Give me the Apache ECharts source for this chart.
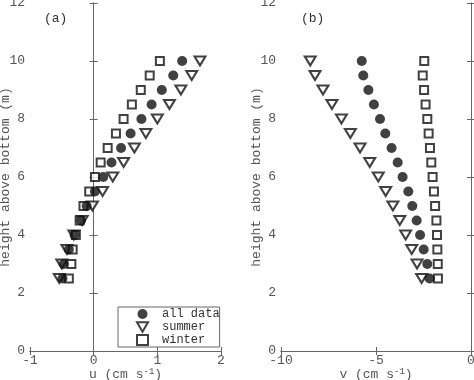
<!DOCTYPE html>
<html><head><meta charset="utf-8">
<script src="https://cdn.jsdelivr.net/npm/echarts@6/dist/echarts.min.js"></script>
<style>html,body{margin:0;padding:0;background:#fff}#c{width:474px;height:380px}</style>
</head><body><div id="c"></div>
<script>
const heights = [10, 9.5, 9, 8.5, 8, 7.5, 7, 6.5, 6, 5.5, 5, 4.5, 4, 3.5, 3, 2.5];
const uAll    = [1.39, 1.25, 1.07, 0.91, 0.75, 0.58, 0.43, 0.28, 0.15, 0.02, -0.11, -0.20, -0.30, -0.39, -0.47, -0.49];
const uSummer = [1.67, 1.54, 1.37, 1.19, 1.00, 0.82, 0.64, 0.47, 0.30, 0.14, -0.02, -0.18, -0.31, -0.42, -0.50, -0.54];
const uWinter = [1.04, 0.88, 0.74, 0.60, 0.47, 0.35, 0.22, 0.11, 0.02, -0.07, -0.16, -0.22, -0.28, -0.33, -0.35, -0.39];
const vAll    = [-5.75, -5.67, -5.40, -5.11, -4.79, -4.51, -4.18, -3.86, -3.60, -3.30, -3.09, -2.86, -2.68, -2.49, -2.30, -2.18];
const vSummer = [-8.46, -8.21, -7.79, -7.32, -6.82, -6.35, -5.84, -5.33, -4.88, -4.49, -4.11, -3.75, -3.44, -3.12, -2.84, -2.60];
const vWinter = [-2.46, -2.54, -2.47, -2.39, -2.30, -2.23, -2.16, -2.09, -2.02, -1.95, -1.89, -1.82, -1.79, -1.77, -1.75, -1.74];
const seriesNames = ['all data', 'summer', 'winter'];
const panelLabels = ['(a)', '(b)'];

const FONT = 'Liberation Mono';
const AX = '#666';
const TXT = '#555';
const INK = '#111';
const pair = (xs) => xs.map((x, i) => [x, heights[i]]);
const TRI = 'path://M0,0L10,0L5,8.7Z';

function xAx(gi, min, max, interval, nameRich) {
  return {
    type: 'value', gridIndex: gi, min, max, interval, position: 'bottom',
    axisLine: {lineStyle: {color: AX}}, axisTick: {inside: true, length: 4, lineStyle: {color: AX}},
    splitLine: {show: false},
    axisLabel: {fontFamily: FONT, fontSize: 13, color: TXT, margin: 3, hideOverlap: false},
    name: nameRich, nameLocation: 'middle', nameGap: 16, nameMoveOverlap: false,
    nameTextStyle: {fontFamily: FONT, fontSize: 13, color: TXT, verticalAlign: 'top', rich: {sup: {fontFamily: FONT, fontSize: 9, color: TXT, verticalAlign: 'top', padding: [0,0,6,0]}}}
  };
}
function xTop(gi, min, max, interval) {
  return {type: 'value', gridIndex: gi, min, max, interval, position: 'top',
    axisLine: {lineStyle: {color: AX}}, axisTick: {inside: true, length: 4, lineStyle: {color: AX}},
    axisLabel: {show: false}, splitLine: {show: false}};
}
function yAx(gi) {
  return {
    type: 'value', gridIndex: gi, min: 0, max: 12, interval: 2, position: 'left',
    axisLine: {show: true, lineStyle: {color: AX}}, axisTick: {show: true, inside: true, length: 4, lineStyle: {color: AX}},
    splitLine: {show: false},
    axisLabel: {fontFamily: FONT, fontSize: 13, color: TXT, margin: 5},
    name: 'height above bottom (m)', nameLocation: 'middle', nameGap: 18, nameRotate: 90, nameMoveOverlap: false,
    nameTextStyle: {fontFamily: FONT, fontSize: 13, color: TXT}
  };
}
function yRight(gi) {
  return {type: 'value', gridIndex: gi, min: 0, max: 12, interval: 2, position: 'right',
    axisLine: {show: true, lineStyle: {color: AX}}, axisTick: {show: true, inside: true, length: 4, lineStyle: {color: AX}},
    axisLabel: {show: false}, splitLine: {show: false}};
}
function sc(name, xi, yi, data, kind) {
  const base = {name, type: 'scatter', xAxisIndex: xi, yAxisIndex: yi, data, z: 5};
  if (kind === 0) return Object.assign(base, {symbol: 'circle', symbolSize: 10, itemStyle: {color: INK}});
  if (kind === 1) return Object.assign(base, {symbol: TRI, symbolSize: [11, 9], itemStyle: {color: '#fff', borderColor: INK, borderWidth: 2}});
  return Object.assign(base, {symbol: 'rect', symbolSize: 8, itemStyle: {color: '#fff', borderColor: INK, borderWidth: 2}});
}

const chart = echarts.init(document.getElementById('c'), null, {renderer: 'canvas'});
chart.setOption({
  animation: false,
  backgroundColor: '#fff',
  grid: [
    {left: 30, top: 3, width: 191, height: 348, outerBoundsMode: 'none', containLabel: false},
    {left: 281, top: 3, width: 190, height: 348, outerBoundsMode: 'none', containLabel: false}
  ],
  xAxis: [
    xAx(0, -1, 2, 1, 'u (cm s{sup|-1})'),
    xAx(1, -10, 0, 5, 'v (cm s{sup|-1})'),
    xTop(0, -1, 2, 1),
    xTop(1, -10, 0, 5)
  ],
  yAxis: [yAx(0), yAx(1), yRight(0), yRight(1)],
  legend: {
    data: [
      {name: seriesNames[0], itemStyle: {color: INK}},
      {name: seriesNames[1]},
      {name: seriesNames[2], icon: 'rect'}
    ],
    orient: 'vertical', left: 118, top: 307,
    itemWidth: 11, itemHeight: 10, itemGap: 1,
    padding: [1, 0, 1, 18],
    borderColor: AX, borderWidth: 1, backgroundColor: 'rgba(255,255,255,0)',
    textStyle: {fontFamily: FONT, fontSize: 12, lineHeight: 11, color: '#333', padding: [0, 0, 0, 9]}
  },
  graphic: [
    {type: 'text', left: 44, top: 12, style: {text: panelLabels[0], font: '13px "Liberation Mono"', fill: '#333'}},
    {type: 'text', left: 301, top: 12, style: {text: panelLabels[1], font: '13px "Liberation Mono"', fill: '#333'}}
  ],
  series: [
    Object.assign(sc(seriesNames[1], 0, 0, pair(uSummer), 1), {
      markLine: {silent: true, symbol: 'none', label: {show: false}, lineStyle: {color: AX, type: 'solid', width: 1}, data: [{xAxis: 0}]}
    }),
    sc(seriesNames[2], 0, 0, pair(uWinter), 2),
    sc(seriesNames[0], 0, 0, pair(uAll), 0),
    sc(seriesNames[1], 1, 1, pair(vSummer), 1),
    sc(seriesNames[2], 1, 1, pair(vWinter), 2),
    sc(seriesNames[0], 1, 1, pair(vAll), 0)
  ]
});
</script>
</body></html>
